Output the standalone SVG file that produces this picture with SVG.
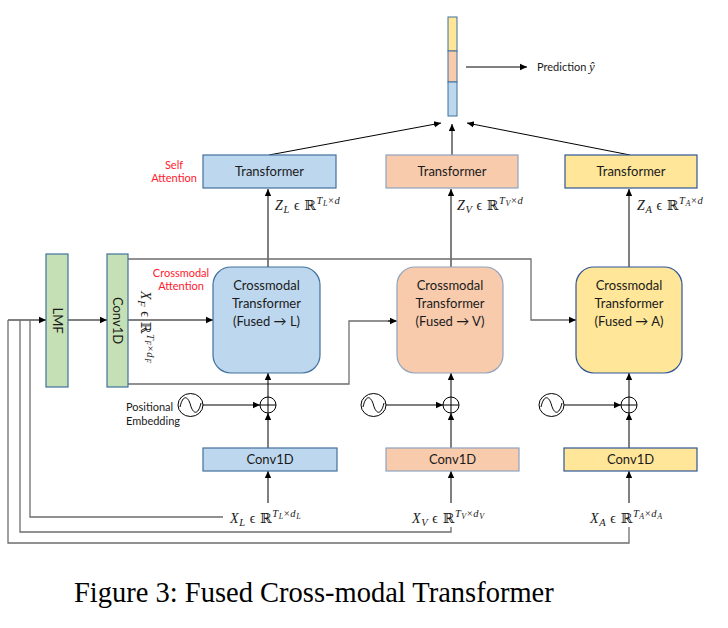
<svg xmlns="http://www.w3.org/2000/svg" width="728" height="628" viewBox="0 0 728 628">
<style>
.t{font-family:Lato,"Open Sans","Liberation Sans",sans-serif;font-size:13px;fill:#1a1a1a;text-anchor:middle}
.red{font-family:Lato,"Open Sans","Liberation Sans",sans-serif;font-size:11px;fill:#ff1a2e;text-anchor:middle}
.sm{font-family:Lato,"Open Sans","Liberation Sans",sans-serif;font-size:11px;fill:#1a1a1a}
.m{font-family:"Liberation Serif","DejaVu Serif",serif;font-size:14px;fill:#1a1a1a;font-style:italic;letter-spacing:0.6px}
.ms{font-size:10.5px}
.mss{font-size:8px}
.blue{fill:#BDD7EE;stroke:#41719C;stroke-width:1.2}
.pink{fill:#F8CBAD;stroke:#8FA3BF;stroke-width:1.2}
.yel{fill:#FFE699;stroke:#2F5597;stroke-width:1.2}
.grn{fill:#C5E0B4;stroke:#41719C;stroke-width:1.2}
.g{fill:none;stroke:#6e6e6e;stroke-width:1.3}
.a{fill:none;stroke:#000;stroke-width:1;marker-end:url(#ah)}
.k{fill:none;stroke:#000;stroke-width:1}
</style>
<defs>
<marker id="ah" markerWidth="8" markerHeight="8" refX="7" refY="4" orient="auto" markerUnits="userSpaceOnUse">
<path d="M0,0.8 L7,4 L0,7.2 Z" fill="#000"/>
</marker>
</defs>
<rect width="728" height="628" fill="#fff"/>

<g id="connectors">
<line class="a" x1="269" y1="155" x2="441" y2="123"/>
<line class="a" x1="452" y1="155" x2="452" y2="124"/>
<line class="a" x1="630" y1="155" x2="467" y2="123"/>
<line class="a" x1="466" y1="67" x2="527" y2="67"/>
<line class="a" x1="268" y1="267" x2="268" y2="189"/>
<line class="a" x1="451" y1="267" x2="451" y2="189"/>
<line class="a" x1="629" y1="267" x2="629" y2="189"/>
<polyline class="g" points="128,259 531,259 531,320 570,320"/>
<line class="a" x1="570" y1="320" x2="576" y2="320"/>
<line class="a" x1="128" y1="320" x2="213" y2="320"/>
<polyline class="g" points="128,384 349,384 349,321 390,321"/>
<line class="a" x1="388" y1="321" x2="397" y2="321"/>
<line class="a" x1="68" y1="320" x2="107" y2="320"/>
<line class="a" x1="8" y1="320" x2="46" y2="320"/>
<polyline class="g" points="8,320 8,543 629,543 629,527"/>
<polyline class="g" points="20,320 20,532 451,532 451,527"/>
<polyline class="g" points="30,320 30,517 223,517"/>
<line class="a" x1="203" y1="405" x2="260" y2="405"/>
<line class="a" x1="386" y1="405" x2="443" y2="405"/>
<line class="a" x1="564" y1="405" x2="621" y2="405"/>
<line class="a" x1="268" y1="448" x2="268" y2="413"/>
<line class="a" x1="451" y1="448" x2="451" y2="413"/>
<line class="a" x1="629" y1="448" x2="629" y2="413"/>
<line class="a" x1="268" y1="397" x2="268" y2="373"/>
<line class="a" x1="451" y1="397" x2="451" y2="373"/>
<line class="a" x1="629" y1="397" x2="629" y2="373"/>
<line class="a" x1="268" y1="503" x2="268" y2="471"/>
<line class="a" x1="451" y1="503" x2="451" y2="471"/>
<line class="a" x1="629" y1="503" x2="629" y2="471"/>
</g>

<g id="output">
<rect x="448" y="17" width="9" height="34" fill="#FFE699" stroke="#41719C" stroke-width="1"/>
<rect x="448" y="51" width="9" height="31" fill="#F8CBAD" stroke="#41719C" stroke-width="1"/>
<rect x="448" y="82" width="9" height="34" fill="#BDD7EE" stroke="#41719C" stroke-width="1"/>
<text class="sm" x="537" y="71">Prediction <tspan font-family="Liberation Serif,serif" font-style="italic" font-size="13">ŷ</tspan></text>
</g>

<g id="transformer-L"><rect class="blue" x="203" y="155" width="133" height="33"/><text class="t" x="269.5" y="176">Transformer</text></g>
<g id="transformer-V"><rect class="pink" x="386" y="155" width="132" height="33"/><text class="t" x="452" y="176">Transformer</text></g>
<g id="transformer-A"><rect class="yel" x="565" y="155" width="132" height="33"/><text class="t" x="631" y="176">Transformer</text></g>

<g id="self-attention-label"><text class="red" x="174" y="169">Self</text><text class="red" x="174" y="182">Attention</text></g>
<g id="crossmodal-attention-label"><text class="red" x="181" y="277">Crossmodal</text><text class="red" x="181" y="290">Attention</text></g>

<g id="z-labels">
<text class="m" x="275" y="210">Z<tspan class="ms" dy="3">L</tspan><tspan dy="-3" font-style="normal"> ϵ ℝ</tspan><tspan class="ms" dy="-6">T</tspan><tspan class="mss" dy="2">L</tspan><tspan class="ms" dy="-2" font-style="normal">×</tspan><tspan class="ms">d</tspan></text>
<text class="m" x="457" y="210">Z<tspan class="ms" dy="3">V</tspan><tspan dy="-3" font-style="normal"> ϵ ℝ</tspan><tspan class="ms" dy="-6">T</tspan><tspan class="mss" dy="2">V</tspan><tspan class="ms" dy="-2" font-style="normal">×</tspan><tspan class="ms">d</tspan></text>
<text class="m" x="637" y="210">Z<tspan class="ms" dy="3">A</tspan><tspan dy="-3" font-style="normal"> ϵ ℝ</tspan><tspan class="ms" dy="-6">T</tspan><tspan class="mss" dy="2">A</tspan><tspan class="ms" dy="-2" font-style="normal">×</tspan><tspan class="ms">d</tspan></text>
</g>

<g id="LMF"><rect class="grn" x="46" y="254" width="22" height="133"/><text class="t" transform="translate(52.5,320.5) rotate(90)" x="0" y="0">LMF</text></g>
<g id="conv1d-fused"><rect class="grn" x="107" y="254" width="21" height="133"/><text class="t" transform="translate(113,320.5) rotate(90)" x="0" y="0">Conv1D</text></g>
<g id="xf-label"><text class="m" transform="translate(141,291) rotate(90)" x="0" y="0">X<tspan class="ms" dy="3">F</tspan><tspan dy="-3" font-style="normal"> ϵ ℝ</tspan><tspan class="ms" dy="-6">T</tspan><tspan class="mss" dy="2">F</tspan><tspan class="ms" dy="-2" font-style="normal">×</tspan><tspan class="ms">d</tspan><tspan class="mss" dy="2">F</tspan></text></g>

<g id="crossmodal-L"><rect class="blue" x="213" y="267" width="107" height="106" rx="18"/><text class="t" x="266.5" y="290">Crossmodal</text><text class="t" x="266.5" y="308">Transformer</text><text class="t" x="266.5" y="326">(Fused → L)</text></g>
<g id="crossmodal-V"><rect class="pink" x="397" y="267" width="106" height="106" rx="18"/><text class="t" x="450" y="290">Crossmodal</text><text class="t" x="450" y="308">Transformer</text><text class="t" x="450" y="326">(Fused → V)</text></g>
<g id="crossmodal-A"><rect class="yel" x="576" y="267" width="106" height="106" rx="18"/><text class="t" x="629" y="290">Crossmodal</text><text class="t" x="629" y="308">Transformer</text><text class="t" x="629" y="326">(Fused → A)</text></g>

<g id="positional-L"><ellipse class="k" cx="190.5" cy="405" rx="12.5" ry="11.5"/><path class="k" d="M180,407 C183,394 188,396 190.5,405 C193,414 198,416 201,403"/></g>
<g id="positional-V"><ellipse class="k" cx="373.5" cy="405" rx="12.5" ry="11.5"/><path class="k" d="M363,407 C366,394 371,396 373.5,405 C376,414 381,416 384,403"/></g>
<g id="positional-A"><ellipse class="k" cx="551.5" cy="405" rx="12.5" ry="11.5"/><path class="k" d="M541,407 C544,394 549,396 551.5,405 C554,414 559,416 562,403"/></g>
<g id="positional-label"><text class="sm" x="126" y="411">Positional</text><text class="sm" x="126" y="425">Embedding</text></g>

<g id="plus-L"><circle class="k" cx="268" cy="405" r="8" fill="#fff"/><path class="k" d="M260,405 H276 M268,397 V413"/></g>
<g id="plus-V"><circle class="k" cx="451" cy="405" r="8" fill="#fff"/><path class="k" d="M443,405 H459 M451,397 V413"/></g>
<g id="plus-A"><circle class="k" cx="629" cy="405" r="8" fill="#fff"/><path class="k" d="M621,405 H637 M629,397 V413"/></g>

<g id="conv1d-L"><rect class="blue" x="203" y="448" width="134" height="23"/><text class="t" x="270" y="464">Conv1D</text></g>
<g id="conv1d-V"><rect class="pink" x="386" y="448" width="133" height="23"/><text class="t" x="452.5" y="464">Conv1D</text></g>
<g id="conv1d-A"><rect class="yel" x="564" y="448" width="133" height="23"/><text class="t" x="630.5" y="464">Conv1D</text></g>

<g id="x-labels">
<text class="m" x="230" y="523">X<tspan class="ms" dy="3">L</tspan><tspan dy="-3" font-style="normal"> ϵ ℝ</tspan><tspan class="ms" dy="-6">T</tspan><tspan class="mss" dy="2">L</tspan><tspan class="ms" dy="-2" font-style="normal">×</tspan><tspan class="ms">d</tspan><tspan class="mss" dy="2">L</tspan></text>
<text class="m" x="412" y="523">X<tspan class="ms" dy="3">V</tspan><tspan dy="-3" font-style="normal"> ϵ ℝ</tspan><tspan class="ms" dy="-6">T</tspan><tspan class="mss" dy="2">V</tspan><tspan class="ms" dy="-2" font-style="normal">×</tspan><tspan class="ms">d</tspan><tspan class="mss" dy="2">V</tspan></text>
<text class="m" x="590" y="523">X<tspan class="ms" dy="3">A</tspan><tspan dy="-3" font-style="normal"> ϵ ℝ</tspan><tspan class="ms" dy="-6">T</tspan><tspan class="mss" dy="2">A</tspan><tspan class="ms" dy="-2" font-style="normal">×</tspan><tspan class="ms">d</tspan><tspan class="mss" dy="2">A</tspan></text>
</g>

<g id="caption"><text x="74" y="602" font-family="Liberation Serif,serif" font-size="28.5" fill="#000">Figure 3: Fused Cross-modal Transformer</text></g>
</svg>
